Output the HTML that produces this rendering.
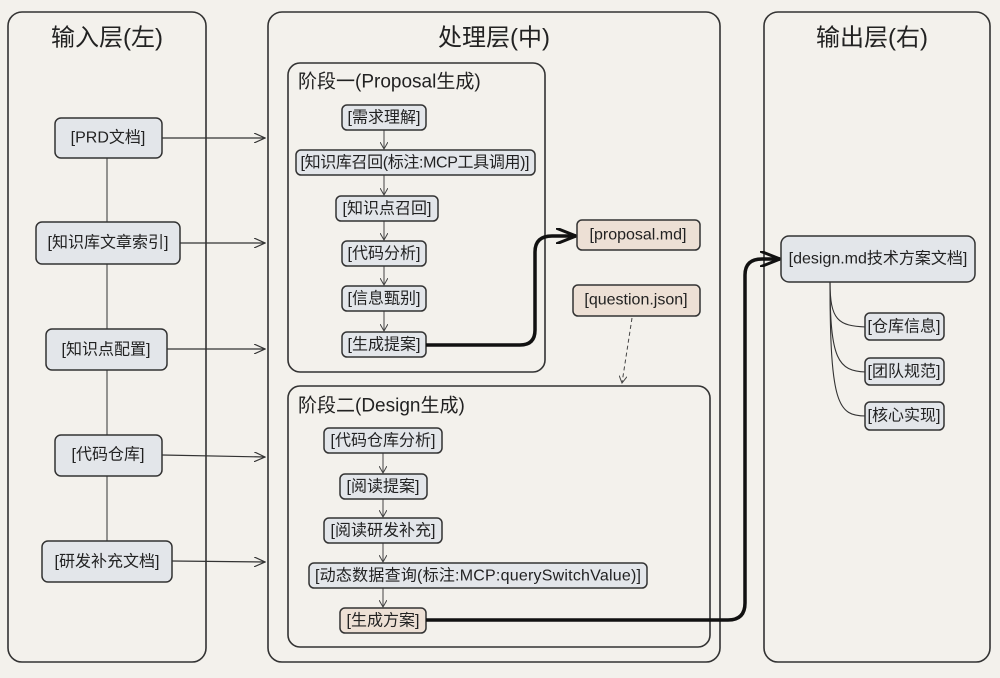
<!DOCTYPE html>
<html><head><meta charset="utf-8"><style>
html,body{margin:0;padding:0;background:#f3f1ec;}
text{font-family:"Liberation Sans","Noto Sans CJK SC",sans-serif;fill:#222;}
.p{fill:none;stroke:#333;stroke-width:1.6}
.n{fill:#e3e6ea;stroke:#333;stroke-width:1.5}
.o{fill:#ede0d5;stroke:#333;stroke-width:1.5}
.l{stroke:#444;stroke-width:1.1;fill:none}
.t{font-size:16px;text-anchor:middle;dominant-baseline:central}
</style></head><body>
<svg width="1000" height="673" viewBox="0 0 1000 673" xmlns="http://www.w3.org/2000/svg">
<defs>
<marker id="a" markerWidth="12" markerHeight="10" refX="11" refY="5" orient="auto" markerUnits="userSpaceOnUse"><path d="M0,0 L11,5 L0,10" fill="none" stroke="#333" stroke-width="1.2"/></marker>
<marker id="s" markerWidth="8" markerHeight="8" refX="7" refY="4" orient="auto" markerUnits="userSpaceOnUse"><path d="M0,0 L7,4 L0,8" fill="none" stroke="#444" stroke-width="1"/></marker>
<marker id="b" markerWidth="22" markerHeight="16" refX="20" refY="8" orient="auto" markerUnits="userSpaceOnUse"><path d="M0,0 L20,8 L0,16" fill="none" stroke="#111" stroke-width="3"/></marker>
</defs>
<rect class="p" x="8" y="12" width="198" height="650" rx="14"/>
<rect class="p" x="268" y="12" width="452" height="650" rx="14"/>
<rect class="p" x="764" y="12" width="226" height="650" rx="14"/>
<text x="107" y="38" font-size="24" text-anchor="middle" dominant-baseline="central">输入层(左)</text>
<text x="494" y="38" font-size="24" text-anchor="middle" dominant-baseline="central">处理层(中)</text>
<text x="872" y="38" font-size="24" text-anchor="middle" dominant-baseline="central">输出层(右)</text>
<line class="l" x1="107" y1="158" x2="107" y2="541"/>
<g>
<rect class="n" x="55" y="118" width="107" height="40" rx="6"/><text class="t" x="108" y="138">[PRD文档]</text>
<rect class="n" x="36" y="222" width="144" height="42" rx="6"/><text class="t" x="108" y="243">[知识库文章索引]</text>
<rect class="n" x="46" y="329" width="121" height="41" rx="6"/><text class="t" x="106" y="350">[知识点配置]</text>
<rect class="n" x="55" y="435" width="107" height="41" rx="6"/><text class="t" x="108" y="455">[代码仓库]</text>
<rect class="n" x="42" y="541" width="130" height="41" rx="6"/><text class="t" x="107" y="562">[研发补充文档]</text>
</g>
<g stroke="#333" stroke-width="1.2" marker-end="url(#a)">
<line x1="162" y1="138" x2="265" y2="138"/>
<line x1="180" y1="243" x2="265" y2="243"/>
<line x1="167" y1="349" x2="265" y2="349"/>
<line x1="162" y1="455" x2="265" y2="457"/>
<line x1="172" y1="561" x2="265" y2="562"/>
</g>
<rect class="p" x="288" y="63" width="257" height="309" rx="12"/>
<text x="298" y="82" font-size="19" dominant-baseline="central">阶段一(Proposal生成)</text>
<g stroke="#444" stroke-width="1" marker-end="url(#s)">
<line x1="384" y1="130" x2="384" y2="149"/>
<line x1="384" y1="175" x2="384" y2="195"/>
<line x1="384" y1="221" x2="384" y2="240"/>
<line x1="384" y1="266" x2="384" y2="285"/>
<line x1="384" y1="311" x2="384" y2="331"/>
</g>
<rect class="n" x="342" y="105" width="84" height="25" rx="5"/><text class="t" x="384" y="118">[需求理解]</text>
<rect class="n" x="296" y="150" width="239" height="25" rx="5"/><text class="t" x="415" y="163" textLength="229">[知识库召回(标注:MCP工具调用)]</text>
<rect class="n" x="336" y="196" width="102" height="25" rx="5"/><text class="t" x="387" y="209">[知识点召回]</text>
<rect class="n" x="342" y="241" width="84" height="25" rx="5"/><text class="t" x="384" y="254">[代码分析]</text>
<rect class="n" x="342" y="286" width="84" height="25" rx="5"/><text class="t" x="384" y="299">[信息甄别]</text>
<rect class="n" x="342" y="332" width="84" height="25" rx="5"/><text class="t" x="384" y="345">[生成提案]</text>
<path d="M426,345 L520,345 Q535,345 535,330 L535,252 Q535,236 552,236 L576,236" fill="none" stroke="#111" stroke-width="3.5" marker-end="url(#b)"/>
<rect class="o" x="577" y="220" width="123" height="30" rx="5"/><text class="t" x="638" y="235">[proposal.md]</text>
<rect class="o" x="573" y="285" width="127" height="31" rx="5"/><text class="t" x="636" y="300">[question.json]</text>
<line x1="632" y1="318" x2="622" y2="383" stroke="#444" stroke-width="1" stroke-dasharray="4,3" marker-end="url(#s)"/>
<rect class="p" x="288" y="386" width="422" height="261" rx="12"/>
<text x="298" y="406" font-size="19" dominant-baseline="central">阶段二(Design生成)</text>
<g stroke="#444" stroke-width="1" marker-end="url(#s)">
<line x1="383" y1="453" x2="383" y2="473"/>
<line x1="383" y1="499" x2="383" y2="517"/>
<line x1="383" y1="543" x2="383" y2="562"/>
<line x1="383" y1="588" x2="383" y2="607"/>
</g>
<rect class="n" x="324" y="428" width="118" height="25" rx="5"/><text class="t" x="383" y="441">[代码仓库分析]</text>
<rect class="n" x="340" y="474" width="87" height="25" rx="5"/><text class="t" x="383" y="487">[阅读提案]</text>
<rect class="n" x="324" y="518" width="118" height="25" rx="5"/><text class="t" x="383" y="531">[阅读研发补充]</text>
<rect class="n" x="309" y="563" width="338" height="25" rx="5"/><text class="t" x="478" y="576" textLength="326">[动态数据查询(标注:MCP:querySwitchValue)]</text>
<rect class="o" x="340" y="608" width="86" height="25" rx="5"/><text class="t" x="383" y="621">[生成方案]</text>
<path d="M426,620 L728,620 Q745,620 745,603 L745,275 Q745,259 762,259 L780,259" fill="none" stroke="#111" stroke-width="3.5" marker-end="url(#b)"/>
<g stroke="#333" stroke-width="1.1" fill="none">
<path d="M830,282 C830,320 838,326 866,327"/>
<path d="M830,282 C830,360 838,371 866,372"/>
<path d="M830,282 C830,405 838,416 866,416"/>
</g>
<rect class="n" x="781" y="236" width="194" height="46" rx="8"/><text class="t" x="878" y="259">[design.md技术方案文档]</text>
<rect class="n" x="865" y="313" width="79" height="27" rx="5"/><text class="t" x="904" y="327">[仓库信息]</text>
<rect class="n" x="865" y="358" width="79" height="27" rx="5"/><text class="t" x="904" y="372">[团队规范]</text>
<rect class="n" x="865" y="402" width="79" height="28" rx="5"/><text class="t" x="904" y="416">[核心实现]</text>
</svg>
</body></html>
